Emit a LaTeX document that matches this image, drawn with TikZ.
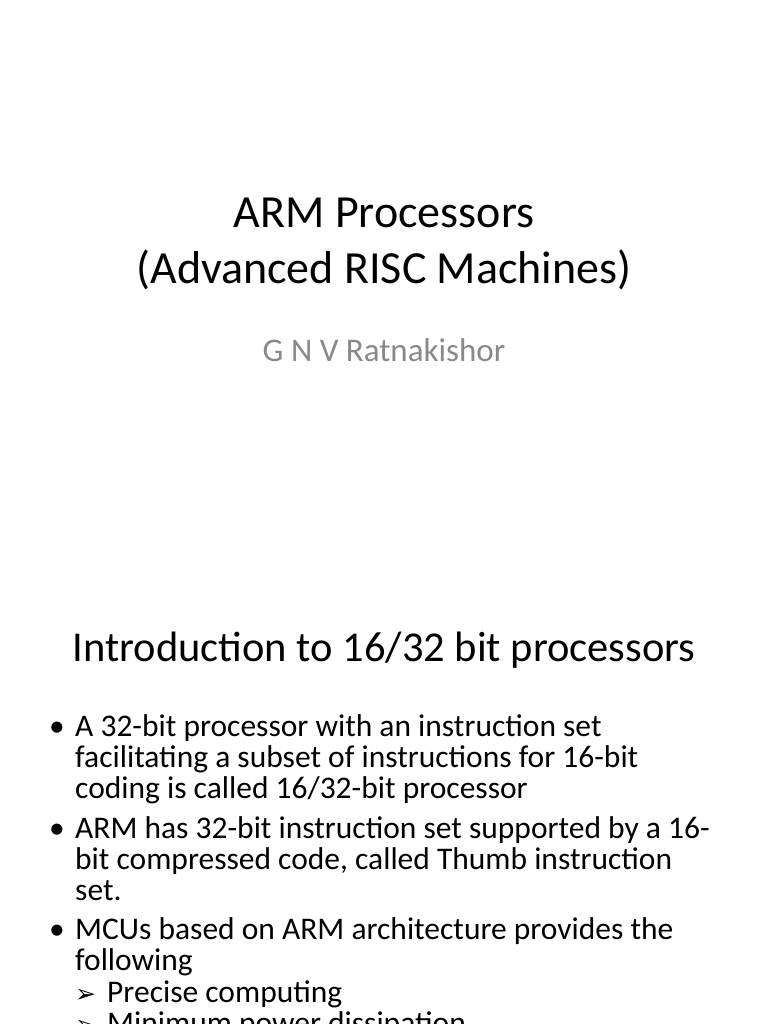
\documentclass[tikz,border=0pt]{standalone}
\usepackage{fontspec}
\setmainfont{Carlito}
\newfontfamily\dejavu{DejaVu Sans}
\definecolor{subgray}{HTML}{898989}
\begin{document}
\begin{tikzpicture}[x=1pt,y=-1pt,
  ttl/.style={font=\fontsize{46}{52}\selectfont,anchor=base},
  ttlb/.style={font=\fontsize{42.5}{48}\selectfont,anchor=base},
  body/.style={font=\fontsize{31.5}{31}\selectfont,anchor=base west,inner sep=0pt},
  bul/.style={font=\fontsize{31.5}{31}\selectfont,anchor=base west,inner sep=0pt}]
\useasboundingbox (0,0) rectangle (768,1024);
\clip (0,0) rectangle (768,1024);
\fill[white] (0,0) rectangle (768,1024);
\node[ttl] (t1) at (384,227) {ARM Processors};
\node[ttl] (t2) at (384,283) {(Advanced RISC Machines)};
\node[font=\fontsize{33}{36}\selectfont,anchor=base,text=subgray] (sub) at (384,361) {G N V Ratnakishor};
\node[ttlb] (t3) at (384,661) {Introduction to 16/32 bit processors};
\node[bul] (b1) at (49,736) {•};
\node[body] (l1) at (75,736) {A 32-bit processor with an instruction set};
\node[body] (l2) at (75,767) {facilitating a subset of instructions for 16-bit};
\node[body] (l3) at (75,798) {coding is called 16/32-bit processor};
\node[bul] (b2) at (49,838) {•};
\node[body] (l4) at (75,838) {ARM has 32-bit instruction set supported by a 16-};
\node[body] (l5) at (75,869) {bit compressed code, called Thumb instruction};
\node[body] (l6) at (75,900) {set.};
\node[bul] (b3) at (49,939) {•};
\node[body] (l7) at (75,939) {MCUs based on ARM architecture provides the};
\node[body] (l8) at (75,970) {following};
\node[body,font=\dejavu\fontsize{25}{31}\selectfont] (a1) at (75,1002) {➢};
\node[body] (l9) at (107,1002) {Precise computing};
\node[body,font=\dejavu\fontsize{25}{31}\selectfont] (a2) at (75,1033) {➢};
\node[body] (l10) at (107,1033) {Minimum power dissipation};
\end{tikzpicture}
\end{document}
